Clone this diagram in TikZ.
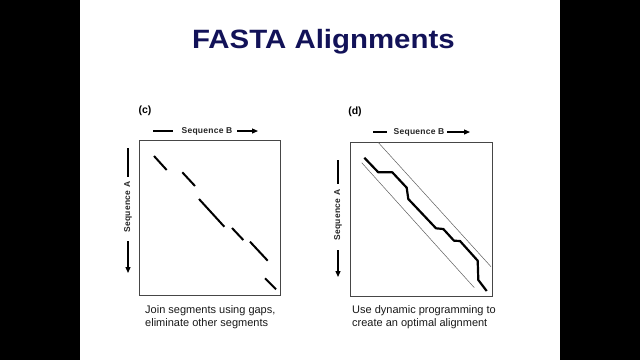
\documentclass[tikz,border=0pt]{standalone}
\usepackage{fontspec}
\setmainfont{Liberation Sans}
\newfontfamily\axisfont[LetterSpace=3]{Liberation Sans}
\usetikzlibrary{arrows.meta}
\definecolor{titleblue}{RGB}{18,18,88}
\definecolor{boxgray}{RGB}{70,70,70}
\tikzset{
  seg/.style={line width=2pt, black},
  axislbl/.style={font=\axisfont\bfseries\fontsize{8.5}{10}\selectfont, text=black!85, inner sep=0pt},
  axisline/.style={line width=1.2pt},
  axisarrow/.style={line width=1.2pt, -{Triangle[length=6pt,width=5pt]}},
  caption/.style={font=\fontsize{11}{13}\selectfont, align=left, anchor=north west, inner sep=0pt, text=black!90},
  panel/.style={font=\bfseries\fontsize{10.5}{12}\selectfont, inner sep=0pt},
  thinline/.style={line width=0.5pt, gray!75!black},
  plotbox/.style={draw=boxgray, line width=0.9pt, inner sep=0pt, anchor=north west}
}
\begin{document}
\begin{tikzpicture}[x=1pt,y=-1pt]
\useasboundingbox (0,0) rectangle (640,360);
\fill[black] (0,0) rectangle (640,360);
\fill[white] (80,0) rectangle (560,360);

\node[font=\bfseries\fontsize{26.5}{30}\selectfont, text=titleblue, anchor=base, xscale=1.11] (title) at (323.4,48) {FASTA Alignments};

% ---------- panel (c)
\node[panel] (lc) at (145,111) {(c)};
\node[plotbox, minimum width=141pt, minimum height=155pt] (boxc) at (139,140) {};
\node[axislbl] (sbc) at (207,131) {Sequence B};
\coordinate (sbc1) at (153,131);
\coordinate (sbc2) at (173,131);
\coordinate (sbc3) at (237,131);
\coordinate (sbc4) at (258,131);
\draw[axisline] (sbc1) -- (sbc2);
\draw[axisarrow] (sbc3) -- (sbc4);
\node[axislbl, rotate=90] (sac) at (128,207) {Sequence A};
\coordinate (sac1) at (128,148);
\coordinate (sac2) at (128,177);
\coordinate (sac3) at (128,241);
\coordinate (sac4) at (128,273);
\draw[axisline] (sac1) -- (sac2);
\draw[axisarrow] (sac3) -- (sac4);

\draw[seg] (154,156) -- (166.7,170);
\draw[seg] (182.3,172.3) -- (195,186);
\draw[seg] (199,199) -- (224.3,226.7);
\draw[seg] (232,228) -- (243.3,240);
\draw[seg] (250,241.7) -- (267.7,260.7);
\draw[seg] (265,278.3) -- (276,289.3);

\node[caption] (capc) at (145,305.5) {Join segments using gaps,\\eliminate other segments};

% ---------- panel (d)
\node[panel] (ld) at (355,112) {(d)};
\node[plotbox, minimum width=142pt, minimum height=154pt] (boxd) at (350,142) {};
\node[axislbl] (sbd) at (419,132) {Sequence B};
\coordinate (sbd1) at (373,132);
\coordinate (sbd2) at (387,132);
\coordinate (sbd3) at (447,132);
\coordinate (sbd4) at (470,132);
\draw[axisline] (sbd1) -- (sbd2);
\draw[axisarrow] (sbd3) -- (sbd4);
\node[axislbl, rotate=90] (sad) at (338,215) {Sequence A};
\coordinate (sad1) at (338,160);
\coordinate (sad2) at (338,184);
\coordinate (sad3) at (338,250);
\coordinate (sad4) at (338,277);
\draw[axisline] (sad1) -- (sad2);
\draw[axisarrow] (sad3) -- (sad4);

\draw[thinline] (378.3,142.5) -- (491,266.7);
\draw[thinline] (361.7,162.7) -- (474.3,287.7);
\draw[line width=2.2pt, line join=round] (364.3,157.7) -- (378.3,172.3) -- (392.3,172.3) -- (406.7,187.7) -- (408.3,199) -- (436,228.3) -- (443.3,229) -- (454,240.7) -- (460,241) -- (477.7,260.7) -- (478.3,280) -- (486.7,291);

\node[caption] (capd) at (352,305.5) {Use dynamic programming to\\create an optimal alignment};
\end{tikzpicture}
\end{document}
